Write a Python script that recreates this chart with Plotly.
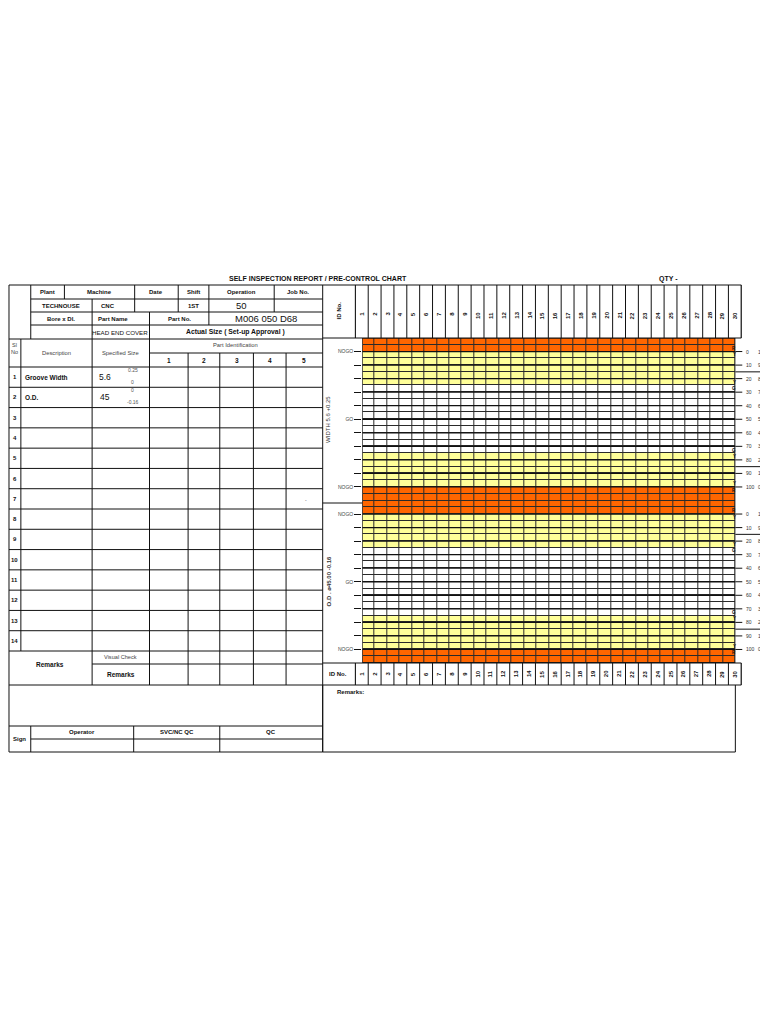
import numpy as np
import plotly.graph_objects as go

# the page puts the figure 8px in from the window's top-left corner; the form is
# laid out in window pixels: y is shifted back by that offset, x squeezed to fit
OY = 8
FW, FH = 760, 1016
FONT = "Liberation Sans"

TITLE = "SELF INSPECTION REPORT / PRE-CONTROL CHART"
QTY = "QTY -"

HEAD_ROW1 = ["Plant", "Machine", "Date", "Shift", "Operation", "Job No."]
HEAD_ROW2 = ["TECHNOUSE", "CNC", "", "1ST", "50", ""]
HEAD_ROW3 = ["Bore x Dl.", "Part Name", "Part No.", "M006 050 D68"]
HEAD_ROW4 = ["", "HEAD END COVER", "Actual Size ( Set-up Approval )"]

SL_NO = ["1", "2", "3", "4", "5", "6", "7", "8", "9", "10", "11", "12", "13", "14"]
DESCRIPTIONS = ["Groove Width", "O.D."]
NOMINAL = ["5.6", "45"]
UPPER_TOL = ["0.25", "0"]
LOWER_TOL = ["0", "-0.16"]
PART_IDS = ["1", "2", "3", "4", "5"]
SIGN_LABELS = ["Operator", "SVC/NC QC", "QC"]

ID_NUMBERS = ["1", "2", "3", "4", "5", "6", "7", "8", "9", "10",
              "11", "12", "13", "14", "15", "16", "17", "18", "19", "20",
              "21", "22", "23", "24", "25", "26", "27", "28", "29", "30"]

# zone colour of the chart rows, top to bottom (R = red/orange, Y = yellow, G = green/white)
ZONE_BANDS = [("R", 2), ("Y", 5), ("G", 10), ("Y", 5), ("R", 4),
              ("Y", 5), ("G", 10), ("Y", 5), ("R", 2)]
ZONE_VALUE = {"G": 0, "Y": 1, "R": 2}

SCALE_LEFT = [0, 10, 20, 30, 40, 50, 60, 70, 80, 90, 100]
SCALE_RIGHT = [100, 90, 80, 70, 60, 50, 40, 30, 20, 10, 0]
GAUGE_LABELS = {0: "NOGO", 50: "GO", 100: "NOGO"}
SECTION_LABELS = ["WIDTH 5.6 +0.25", "<b>O.D . ø45.00 -0.16</b>"]
ZONE_LETTERS = [("R", "Y"), ("Y", "G"), ("G", "Y"), ("Y", "R")]
ZONE_LETTER_AT = [0, 25, 75, 100]


def fx(x):
    return x / 768


def fy(y):
    return 1 - (y - OY) / FH


shapes = []
annotations = []


def hline(y, x0, x1, w=1.0):
    shapes.append(dict(type="line", xref="paper", yref="paper",
                       x0=fx(x0), x1=fx(x1), y0=fy(y), y1=fy(y),
                       line=dict(color="#111", width=w)))


def vline(x, y0, y1, w=1.0):
    shapes.append(dict(type="line", xref="paper", yref="paper",
                       x0=fx(x), x1=fx(x), y0=fy(y0), y1=fy(y1),
                       line=dict(color="#111", width=w)))


def label(x, y, text, size=6.5, bold=False, color="#111", anchor="center", angle=0):
    annotations.append(dict(xref="paper", yref="paper", x=fx(x), y=fy(y),
                            text=f"<b>{text}</b>" if bold else text, showarrow=False,
                            xanchor=anchor, yanchor="middle", textangle=angle,
                            font=dict(family=FONT, size=size, color=color)))


# title
label(313, 279, TITLE, size=7, bold=True)
label(667, 279, QTY, size=7, bold=True)

# ---- left table: header block ----
hline(285, 1, 741)
for y in (299, 312, 325):
    hline(y, 23, 318)
hline(339, 1, 318)
vline(1, 285, 752)
vline(318, 285, 752)
vline(23, 285, 339)

row1_x = [23, 57, 128, 172, 203, 269, 318]
for x in row1_x[1:-1]:
    vline(x, 285, 299)
for i, t in enumerate(HEAD_ROW1):
    label((row1_x[i] + row1_x[i + 1]) / 2, 292, t, size=6, bold=True)

row2_x = [23, 85, 128, 172, 203, 269, 318]
for x in row2_x[1:-1]:
    vline(x, 299, 312)
for i, t in enumerate(HEAD_ROW2):
    size = 9.5 if t == "50" else 6
    cx = (row2_x[i] + row2_x[i + 1]) / 2
    if t == "CNC":
        cx = 101
    label(cx, 305.5, t, size=size, bold=(t != "50"))

row3_x = [23, 85, 143, 203, 318]
for x in row3_x[1:-1]:
    vline(x, 312, 325)
for i, t in enumerate(HEAD_ROW3):
    size = 9.5 if i == 3 else 6
    cx = (row3_x[i] + row3_x[i + 1]) / 2
    if i == 1:
        cx = 106
    label(cx, 318.5, t, size=size, bold=(i != 3))

row4_x = [23, 85, 143, 318]
for x in row4_x[1:-1]:
    vline(x, 325, 339)
label(113, 332, HEAD_ROW4[1], size=6.2)
label(230, 332, HEAD_ROW4[2], size=6.8, bold=True)

# ---- left table: measurement rows ----
part_x = [143, 182, 214, 248, 281, 318]
label(7, 348, "Sl<br>No", size=5.5, color="#444")
label(49, 353, "Description", size=5.8, color="#444")
label(114, 353, "Specified Size", size=5.8, color="#444")
label(230, 345, "Part Identification", size=5.8, color="#444")
hline(353, 143, 318)
for i, t in enumerate(PART_IDS):
    label((part_x[i] + part_x[i + 1]) / 2, 360, t, size=6.5, bold=True)
for x in (13, 85, 143):
    vline(x, 339, 651)
for x in part_x[1:-1]:
    vline(x, 353, 685)
vline(85, 651, 685)
vline(143, 651, 685)

row_y = np.linspace(367, 651, len(SL_NO) + 1)
for y in row_y:
    hline(y, 1, 318)
for i, t in enumerate(SL_NO):
    cy = (row_y[i] + row_y[i + 1]) / 2
    label(7, cy, t, size=6, bold=True)
for i, t in enumerate(DESCRIPTIONS):
    cy = (row_y[i] + row_y[i + 1]) / 2
    label(15, cy, t, size=6.5, bold=True, anchor="left")
    label(98, cy, NOMINAL[i], size=8.5)
    label(126, cy - 7, UPPER_TOL[i], size=5, color="#555")
    label(126, cy + 5, LOWER_TOL[i], size=5, color="#555")
label(301, 500, "-", size=5, color="#555")

# remarks / visual check
hline(664, 85, 318)
hline(685, 1, 318)
label(42, 664, "Remarks", size=6.5, bold=True)
label(114, 657, "Visual Check", size=5.6, color="#444")
label(114, 674, "Remarks", size=6.5, bold=True)

# sign block
hline(726, 1, 318)
hline(739, 23, 318)
hline(752, 1, 318)
sign_x = [23, 127, 214, 318]
for x in sign_x[:-1]:
    vline(x, 726, 752)
label(12, 739, "Sign", size=6, bold=True)
for i, t in enumerate(SIGN_LABELS):
    label((sign_x[i] + sign_x[i + 1]) / 2, 732, t, size=6, bold=True)

# ---- pre-control chart ----
zones = []
for zone, count in ZONE_BANDS:
    zones += [zone] * count
n_rows = len(zones)
z = [[ZONE_VALUE[zone]] * len(ID_NUMBERS) for zone in zones]

# gauge 0 sits on the edge between the top red rows and the first yellow row
section_tops = [ZONE_BANDS[0][1] - 0.5, sum(c for _, c in ZONE_BANDS[:5]) - 0.5]


def scale_row(section, value):
    return section_tops[section] + value / 5.0


tick_vals, tick_text = [], []
for s in range(2):
    for v in SCALE_LEFT:
        tick_vals.append(scale_row(s, v))
        tick_text.append(GAUGE_LABELS.get(v, ""))

fig = go.Figure()
fig.add_trace(go.Heatmap(
    z=z, x=list(range(len(ID_NUMBERS))), y=list(range(n_rows)),
    colorscale=[[0, "#ffffff"], [0.5, "#ffff99"], [1, "#ff6600"]],
    zmin=0, zmax=2, showscale=False, xgap=1, ygap=1, hoverinfo="skip",
))
# heavier rule at every 10 on the gauge scale
line_x, line_y = [], []
for s in range(2):
    for v in SCALE_LEFT:
        yv = scale_row(s, v)
        line_x += [-0.5, len(ID_NUMBERS) - 0.5, None]
        line_y += [yv, yv, None]
fig.add_trace(go.Scatter(x=line_x, y=line_y, mode="lines",
                         line=dict(color="#111", width=1.3), hoverinfo="skip"))
# dummy trace so the header/ID axis exists
fig.add_trace(go.Scatter(x=[0], y=[0], xaxis="x2", yaxis="y2", mode="markers",
                         marker=dict(opacity=0), hoverinfo="skip"))

# dark backing that shows through the cell gaps
shapes.append(dict(type="rect", xref="x", yref="y", x0=-0.5, x1=len(ID_NUMBERS) - 0.5,
                   y0=-0.5, y1=n_rows - 0.5, layer="below",
                   fillcolor="#2a2a2a", line=dict(width=0)))
shapes.append(dict(type="rect", xref="x", yref="y", x0=-0.5, x1=len(ID_NUMBERS) - 0.5,
                   y0=-0.5, y1=n_rows - 0.5, line=dict(color="#111", width=1)))

# header and ID-number rows (their columns are drawn a touch wider than the grid)
for k in range(len(ID_NUMBERS) + 1):
    for y0, y1 in ((285, 338), (663, 685)):
        shapes.append(dict(type="line", xref="x2", yref="paper", x0=k - 0.5, x1=k - 0.5,
                           y0=fy(y0), y1=fy(y1), line=dict(color="#111", width=1)))
for i, t in enumerate(ID_NUMBERS):
    for y in (310, 674):
        annotations.append(dict(xref="x2", yref="paper", x=i, y=fy(y), text=f"<b>{t}</b>",
                                showarrow=False, textangle=-90,
                                font=dict(family=FONT, size=6, color="#111")))
hline(338, 318, 741)
hline(663, 318, 741)
hline(685, 318, 741)
vline(351, 285, 338)
vline(351, 663, 685)
vline(741, 285, 338)
vline(741, 663, 685)
label(334, 311, "ID No.", size=6, bold=True, angle=-90)
label(322, 674, "ID No.", size=6, bold=True, anchor="left")

# label strip dividers and section titles
hline(503, 318, 358)
for s in range(2):
    annotations.append(dict(xref="paper", yref="y", x=fx(324), y=scale_row(s, 50),
                            text=SECTION_LABELS[s], showarrow=False, textangle=-90,
                            font=dict(family=FONT, size=6, color="#333")))

# right hand scale
for s in range(2):
    for a, b in zip(SCALE_LEFT, SCALE_RIGHT):
        yv = scale_row(s, a)
        shapes.append(dict(type="line", xref="paper", yref="y", x0=fx(735), x1=fx(742),
                           y0=yv, y1=yv, line=dict(color="#111", width=1)))
        annotations.append(dict(xref="paper", yref="y", x=fx(744), y=yv, text=str(a),
                                showarrow=False, xanchor="left",
                                font=dict(family=FONT, size=5, color="#333")))
        annotations.append(dict(xref="paper", yref="y", x=fx(756), y=yv, text=str(b),
                                showarrow=False, xanchor="left",
                                font=dict(family=FONT, size=5, color="#333")))
    for v in (15, 85):
        yv = scale_row(s, v)
        shapes.append(dict(type="line", xref="paper", yref="y", x0=fx(735), x1=fx(768),
                           y0=yv, y1=yv, line=dict(color="#111", width=1)))
    for (above, below), v in zip(ZONE_LETTERS, ZONE_LETTER_AT):
        yv = scale_row(s, v)
        for txt, dy in ((above, -0.45), (below, 0.45)):
            annotations.append(dict(xref="paper", yref="y", x=fx(737.5), y=yv + dy,
                                    text=f"<b>{txt}</b>", showarrow=False,
                                    font=dict(family=FONT, size=4.5, color="#111")))

# remarks box under the chart
vline(318, 685, 752)
vline(735, 685, 752)
hline(752, 318, 735)
label(330, 692, "Remarks:", size=6, bold=True, anchor="left")

fig.update_layout(
    width=FW, height=FH,
    margin=dict(l=0, r=0, t=0, b=0),
    paper_bgcolor="white", plot_bgcolor="white",
    showlegend=False,
    xaxis=dict(domain=[fx(358), fx(735)], range=[-0.5, len(ID_NUMBERS) - 0.5],
               showticklabels=False, showgrid=False, zeroline=False, ticks=""),
    yaxis=dict(domain=[fy(663), fy(338)], range=[n_rows - 0.5, -0.5],
               showgrid=False, zeroline=False, tickmode="array",
               tickvals=tick_vals, ticktext=tick_text, ticks="outside", ticklen=7,
               tickwidth=1, tickcolor="#111",
               tickfont=dict(family=FONT, size=5, color="#444")),
    xaxis2=dict(domain=[fx(351), fx(741)], range=[-0.5, len(ID_NUMBERS) - 0.5],
                anchor="y2", visible=False),
    yaxis2=dict(domain=[fy(338), fy(285)], anchor="x2", visible=False),
    shapes=shapes,
    annotations=annotations,
)

fig.write_html("out.html")
